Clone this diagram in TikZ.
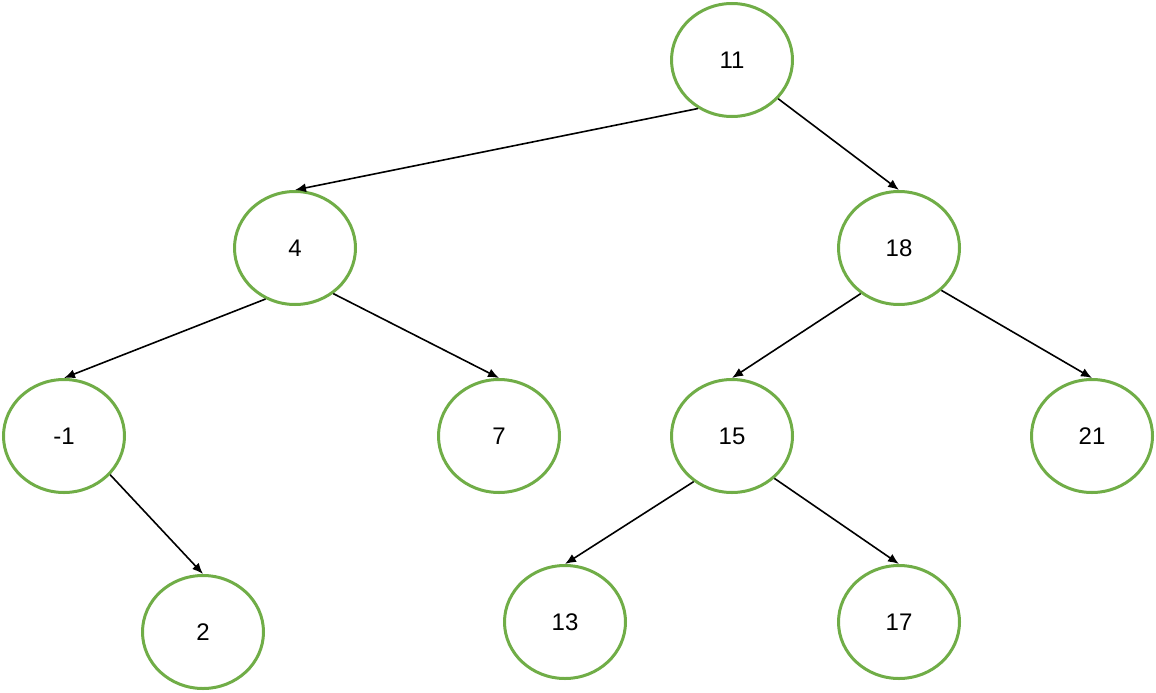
\documentclass[tikz,border=0pt]{standalone}
\usepackage{fontspec}
\setmainfont{Liberation Sans}
\usetikzlibrary{shapes.geometric,arrows.meta}
\definecolor{tg}{RGB}{112,173,71}
\begin{document}
\begin{tikzpicture}[x=1pt,y=-1pt,
  tn/.style={ellipse,draw=tg,line width=3pt,minimum width=121pt,minimum height=113pt,inner sep=0pt,font=\fontsize{24}{28}\selectfont},
  ed/.style={draw=black,line width=1.6pt,-{Latex[length=11pt,width=9pt]}}]
\useasboundingbox (0,0) rectangle (1156,693);
\node[tn] (n11) at (732,60) {11};
\node[tn] (n4) at (295,248) {4};
\node[tn] (n18) at (899,248) {18};
\node[tn] (nm1) at (64,436) {-1};
\node[tn] (n7) at (499,436) {7};
\node[tn] (n15) at (732,436) {15};
\node[tn] (n21) at (1092,436) {21};
\node[tn] (n2) at (203,632) {2};
\node[tn] (n13) at (565,622) {13};
\node[tn] (n17) at (899,622) {17};
\draw[ed] (n11.-125) -- (n4.north);
\draw[ed] (n11.-40) -- (n18.north);
\draw[ed] (n4.-120) -- (nm1.north);
\draw[ed] (n4.-50) -- (n7.north);
\draw[ed] (n18.-130) -- (n15.north);
\draw[ed] (n18.-45) -- (n21.north);
\draw[ed] (nm1.-40) -- (n2.north);
\draw[ed] (n15.-130) -- (n13.north);
\draw[ed] (n15.-45) -- (n17.north);
\end{tikzpicture}
\end{document}
